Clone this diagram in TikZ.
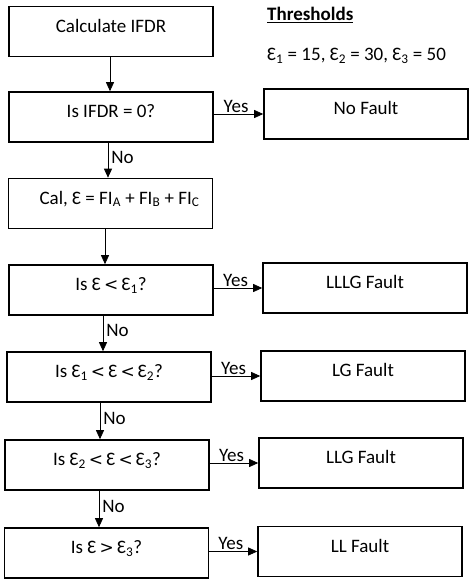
\documentclass[tikz,border=0pt]{standalone}
\usepackage{fontspec}
\setmainfont{Carlito}
\newfontfamily\symf{DejaVu Sans}
\usetikzlibrary{arrows.meta,calc}
\newcommand{\Ep}{Ɛ}
\newcommand{\sbs}[1]{\textsubscript{#1}}
\newcommand{\lt}{\,{\symf\fontsize{17}{20}\selectfont <}\,}
\newcommand{\gt}{\,{\symf\fontsize{17}{20}\selectfont >}\,}
\tikzset{
  box/.style={draw, line width=1.6pt, minimum width=204pt, minimum height=50pt, inner sep=0pt,
    text height=12pt, text depth=11pt, font=\fontsize{19}{22}\selectfont},
  arr/.style={line width=0.8pt, -{Triangle[length=9pt,width=8pt]}},
  lbl/.style={font=\fontsize{19}{22}\selectfont, inner sep=1pt}
}
\begin{document}
\begin{tikzpicture}[x=1pt,y=-1pt]
\useasboundingbox (0,0) rectangle (474,582);
\node[box] (b1) at (111,31.5) {Calculate IFDR};
\node[box] (b2) at (111,117) {Is IFDR = 0?};
\node[box] (nf) at (366,114) {No Fault};
\node[box] (b3) at (110.5,203.5) {\hspace{18pt}Cal, \Ep{} = FI\sbs{A} + FI\sbs{B} + FI\sbs{C}};
\node[box] (b4) at (111,290) {Is \Ep\lt\Ep\sbs{1}?};
\node[box] (f4) at (365,288) {LLLG Fault};
\node[box] (b5) at (109,377) {Is \Ep\sbs{1}\lt\Ep\lt\Ep\sbs{2}?};
\node[box] (f5) at (363,376) {LG Fault};
\node[box] (b6) at (107,465) {Is \Ep\sbs{2}\lt\Ep\lt\Ep\sbs{3}?};
\node[box] (f6) at (361,463) {LLG Fault};
\node[box] (b7) at (106.5,553) {Is \Ep\gt\Ep\sbs{3}?};
\node[box] (f7) at (360,551.5) {LL Fault};
\node[lbl, anchor=west] (th) at (266,15) {\textbf{\underline{Thresholds}}};
\node[lbl, anchor=west] (eq) at (266,56) {\Ep\sbs{1} = 15, \Ep\sbs{2} = 30, \Ep\sbs{3} = 50};
% vertical arrows
\draw[arr] ([xshift=-1pt]b1.south) -- ([xshift=-1pt]b1.south |- b2.north);
\draw[arr] ([xshift=-3pt]b2.south) -- node[lbl, right, pos=0.42, xshift=2pt] (n1) {No} ([xshift=-3pt]b2.south |- b3.north);
\draw[arr] ([xshift=-5.5pt]b3.south) -- ([xshift=-5.5pt]b3.south |- b4.north);
\draw[arr] ([xshift=-8pt]b4.south) -- node[lbl, right, pos=0.42, xshift=2pt] (n2) {No} ([xshift=-8pt]b4.south |- b5.north);
\draw[arr] ([xshift=-9pt]b5.south) -- node[lbl, right, pos=0.42, xshift=2pt] (n3) {No} ([xshift=-9pt]b5.south |- b6.north);
\draw[arr] ([xshift=-8pt]b6.south) -- node[lbl, right, pos=0.42, xshift=2pt] (n4) {No} ([xshift=-8pt]b6.south |- b7.north);
% horizontal arrows
\draw[arr] (b2.east |- nf.west) -- node[lbl, above, pos=0.45] (y1) {Yes} (nf.west);
\draw[arr] (b4.east |- f4.west) -- node[lbl, above, pos=0.45] (y2) {Yes} (f4.west);
\draw[arr] (b5.east |- f5.west) -- node[lbl, above, pos=0.45] (y3) {Yes} (f5.west);
\draw[arr] (b6.east |- f6.west) -- node[lbl, above, pos=0.45] (y4) {Yes} (f6.west);
\draw[arr] (b7.east |- f7.west) -- node[lbl, above, pos=0.45] (y5) {Yes} (f7.west);
\end{tikzpicture}
\end{document}
